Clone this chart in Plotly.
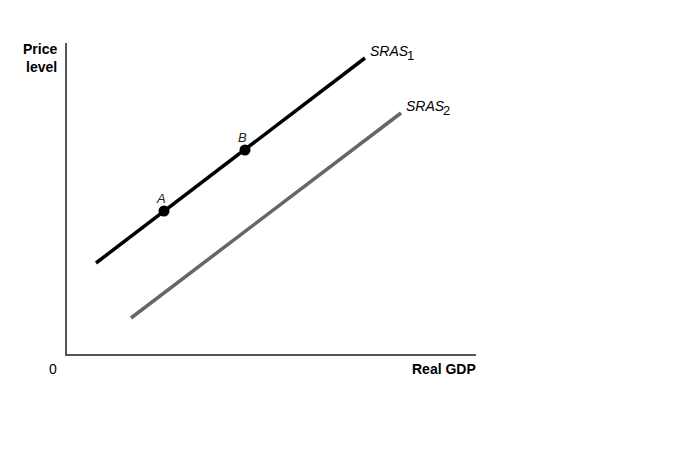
import plotly.graph_objects as go

# Data (axis units: x = Real GDP, y = Price level)
sras1_x = [29, 298]
sras1_y = [91, 296]
sras2_x = [64, 334]
sras2_y = [36, 241]
points_x = [97, 178]
points_y = [143, 204]
point_labels = ["A", "B"]
curve_names = ["SRAS", "SRAS"]
curve_subs = ["1", "2"]

fig = go.Figure()
fig.add_trace(go.Scatter(x=sras1_x, y=sras1_y, mode="lines",
                         line=dict(color="black", width=3.5), hoverinfo="skip"))
fig.add_trace(go.Scatter(x=sras2_x, y=sras2_y, mode="lines",
                         line=dict(color="#666666", width=3.5), hoverinfo="skip"))
fig.add_trace(go.Scatter(x=points_x, y=points_y, mode="markers",
                         marker=dict(color="black", size=11), hoverinfo="skip"))

fam = "Liberation Sans, Arial"
font = dict(family=fam, size=14, color="black")
bfont = dict(family=fam, size=14, color="black")
ann = []
for px, py, lab in zip(points_x, points_y, point_labels):
    ann.append(dict(x=px, y=py, text="<i>%s</i>" % lab, xanchor="center", yanchor="middle",
                    xshift=-3, yshift=13, showarrow=False,
                    font=dict(family=fam, size=13, color="#222")))
for ex, ey, nm, sb in zip([sras1_x[1], sras2_x[1]], [sras1_y[1], sras2_y[1]], curve_names, curve_subs):
    ann.append(dict(x=ex, y=ey, text="<i>%s</i>" % nm, xanchor="left", yanchor="middle",
                    xshift=3, yshift=7.5, showarrow=False, font=font))
    ann.append(dict(x=ex, y=ey, text=sb, xanchor="left", yanchor="middle",
                    xshift=40, yshift=3, showarrow=False, font=dict(family=fam, size=13, color="black")))
ann += [
    dict(x=0, y=1, xref="paper", yref="paper", text="<b>Price<br>level</b>", align="right",
         xanchor="right", yanchor="top", xshift=-8, yshift=4, showarrow=False, font=bfont),
    dict(x=0, y=0, xref="paper", yref="paper", text="0",
         xanchor="right", yanchor="top", xshift=-8, yshift=-5, showarrow=False, font=bfont),
    dict(x=1, y=0, xref="paper", yref="paper", text="<b>Real GDP</b>",
         xanchor="right", yanchor="top", xshift=2, yshift=-5, showarrow=False, font=bfont),
]

fig.update_layout(
    width=686, height=472,
    margin=dict(l=59, r=218, t=35, b=126),
    paper_bgcolor="white", plot_bgcolor="white",
    showlegend=False,
    annotations=ann,
    xaxis=dict(range=[0, 409], showgrid=False, zeroline=False, showticklabels=False,
               ticks="", showline=True, linecolor="#555555", linewidth=1.5, fixedrange=True),
    yaxis=dict(range=[0, 311], showgrid=False, zeroline=False, showticklabels=False,
               ticks="", showline=True, linecolor="#555555", linewidth=1.5, fixedrange=True),
)

fig.write_html("out.html")
